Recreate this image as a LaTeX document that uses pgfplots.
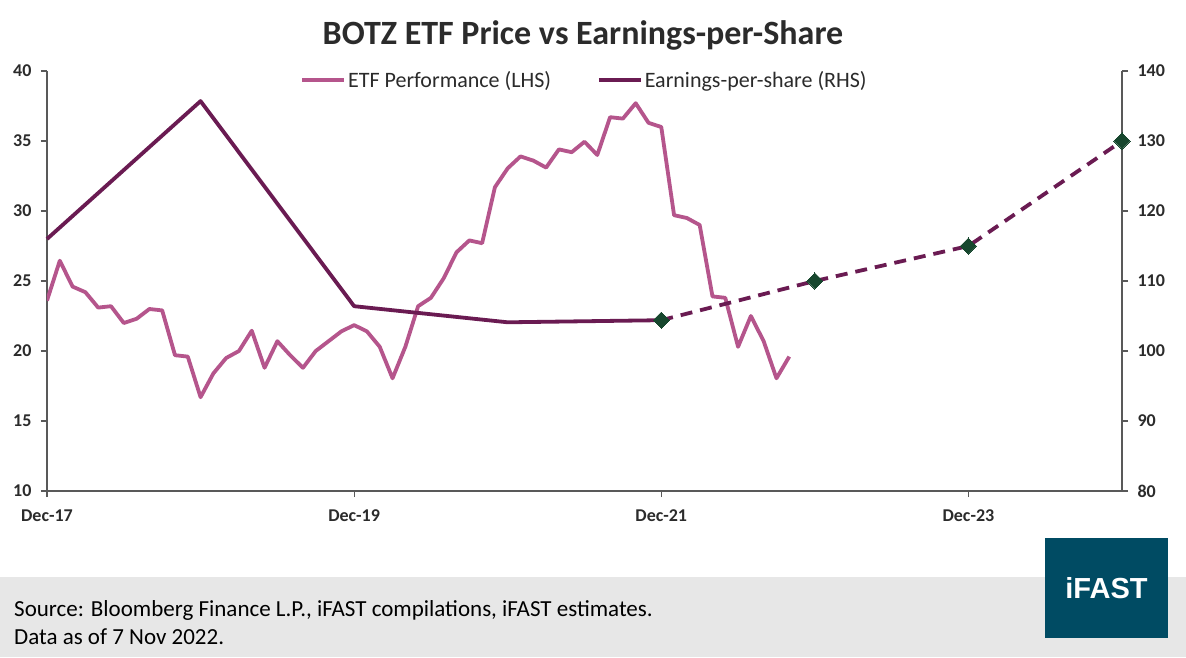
\documentclass[border=0pt]{standalone}
\usepackage{pgfplots}
\pgfplotsset{compat=1.18}
\usepackage{fontspec}
\setmainfont{Carlito}
\newfontfamily\arialfont{Liberation Sans}
\definecolor{pinkline}{HTML}{B5558C}
\definecolor{epsline}{HTML}{6A1B52}
\definecolor{dmd}{HTML}{17472E}
\definecolor{axgray}{HTML}{595959}
\definecolor{txt}{HTML}{2B2B2B}
\definecolor{band}{HTML}{E7E7E7}
\definecolor{logo}{HTML}{004B63}

\pgfplotstableread{
m v
0 23.6
1 26.45
2 24.6
3 24.2
4 23.1
5 23.2
6 22.0
7 22.3
8 23.0
9 22.9
10 19.7
11 19.6
12 16.7
13 18.4
14 19.5
15 20.0
16 21.45
17 18.8
18 20.7
19 19.7
20 18.8
21 20.0
22 20.7
23 21.4
24 21.85
25 21.4
26 20.3
27 18.05
28 20.3
29 23.2
30 23.8
31 25.2
32 27.05
33 27.9
34 27.7
35 31.7
36 33.05
37 33.9
38 33.6
39 33.1
40 34.4
41 34.2
42 34.95
43 34.0
44 36.7
45 36.6
46 37.7
47 36.3
48 36.0
49 29.7
50 29.5
51 29.0
52 23.9
53 23.8
54 20.3
55 22.5
56 20.7
57 18.05
58 19.6
}\etfdata

\pgfplotstableread{
m v
0 116
12 135.7
24 106.4
36 104.1
48 104.4
}\epsactual

\pgfplotstableread{
m v
48 104.4
60 110
72 115
84 130
}\epsest

\pgfplotsset{
  myax/.style={
    at={(47pt,166pt)}, anchor=south west, scale only axis,
    width=1075pt, height=420pt,
    xmin=0, xmax=84,
    axis line style={axgray, line width=1.1pt},
    tick style={axgray, line width=1.1pt},
    tick align=outside, major tick length=6pt,
    ticklabel style={font=\bfseries\fontsize{18}{18}\selectfont, text=txt},
    /pgf/number format/assume math mode=true,
  }
}

\begin{document}
\begin{tikzpicture}
\fill[white] (0pt,0pt) rectangle (1186pt,657pt);
\fill[band] (0pt,0pt) rectangle (1186pt,80pt);
\fill[logo] (1045pt,19pt) rectangle (1168pt,119pt);
\node[white,font=\arialfont\bfseries\fontsize{29}{29}\selectfont] at (1106.5pt,69pt) {iFAST};
\node[anchor=west,font=\fontsize{23}{23}\selectfont,text=black,inner sep=0pt] at (14pt,47pt) {Source: Bloomberg Finance L.P., iFAST compilations, iFAST estimates.};
\node[anchor=west,font=\fontsize{23}{23}\selectfont,text=black,inner sep=0pt] at (14pt,20pt) {Data as of 7 Nov 2022.};
\node[font=\bfseries\fontsize{34}{34}\selectfont,text=txt] at (583pt,622pt) {BOTZ ETF Price vs Earnings-per-Share};

\begin{axis}[myax,
  axis x line*=bottom, axis y line*=left,
  ymin=10, ymax=40, ytick={10,15,...,40},
  xtick={0,24,48,72}, xticklabels={Dec-17,Dec-19,Dec-21,Dec-23},
  xticklabel style={yshift=-9pt},
  yticklabel style={xshift=-6pt},
  legend style={at={(0.50,0.979)}, anchor=center, draw=none, fill=none,
    font=\fontsize{22}{22}\selectfont, text=txt,
    /tikz/every even column/.append style={column sep=44pt}},
  legend columns=2,
  legend image code/.code={\draw[#1] (0pt,0pt) -- (42pt,0pt);},
]
\addplot[pinkline, line width=3.8pt, line join=round] table[x=m,y=v] {\etfdata};
\addlegendentry{ETF Performance (LHS)}
\addlegendimage{epsline, line width=3.8pt}
\addlegendentry{Earnings-per-share (RHS)}
\end{axis}

\begin{axis}[myax,
  axis y line*=right, axis x line=none,
  ymin=80, ymax=140, ytick={80,90,...,140},
  yticklabel style={xshift=6pt},
  clip=false,
]
\addplot[epsline, line width=3.8pt, line join=round] table[x=m,y=v] {\epsactual};
\addplot[epsline, line width=3.8pt, dash pattern=on 12pt off 8pt,
  mark=square*, mark size=5.7pt,
  mark options={solid, fill=dmd, draw=dmd, rotate=45, line width=0pt}] table[x=m,y=v] {\epsest};
\end{axis}
\end{tikzpicture}
\end{document}
